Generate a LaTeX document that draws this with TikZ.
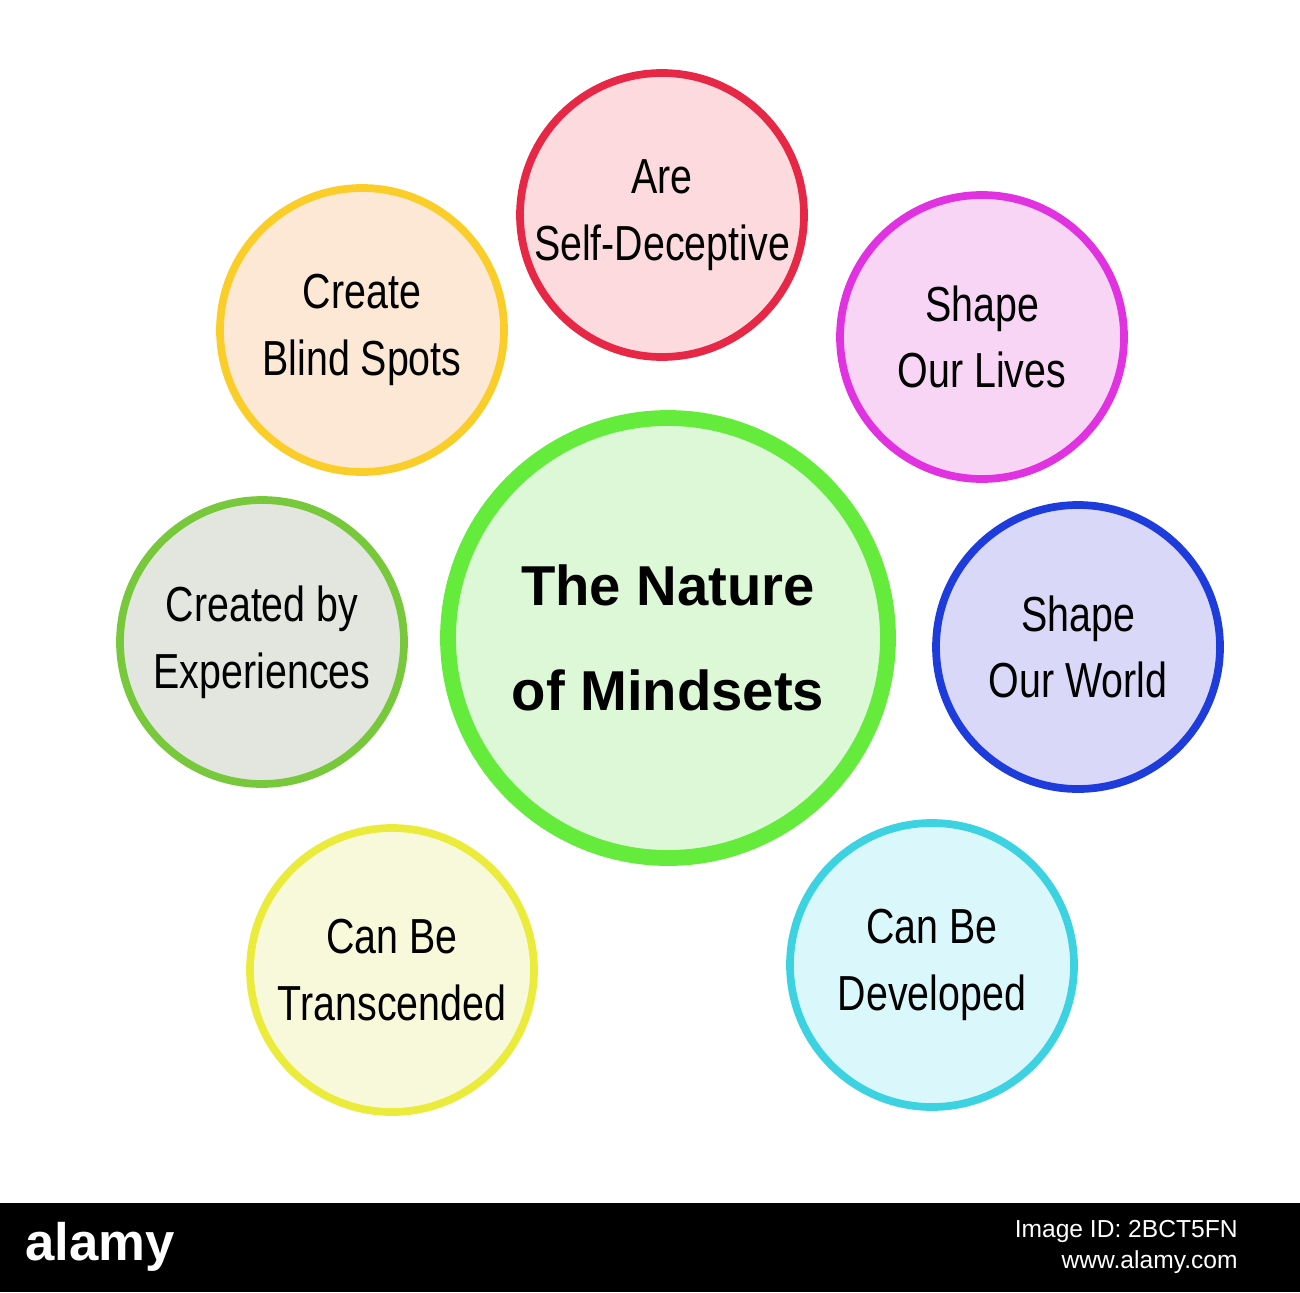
\documentclass[tikz,border=0pt]{standalone}
\usepackage{fontspec}
\setmainfont{Liberation Sans}
\newfontfamily\narrowfont[FakeStretch=0.8]{Liberation Sans}
\tikzset{
  idea/.style={circle,draw=#1,line width=2.2pt,minimum size=2.84cm,inner sep=0pt,
    align=center,font=\narrowfont\fontsize{14}{19}\selectfont},
  hub/.style={circle,draw=cHub,fill=fHub,line width=4.5pt,minimum size=4.4cm,
    inner sep=0pt,align=center,font=\bfseries\fontsize{16}{30}\selectfont}
}
\definecolor{cHub}{RGB}{100,235,60}\definecolor{fHub}{RGB}{220,248,214}
\definecolor{cRed}{RGB}{230,40,70}\definecolor{fRed}{RGB}{252,218,222}
\definecolor{cOra}{RGB}{250,205,40}\definecolor{fOra}{RGB}{253,232,214}
\definecolor{cMag}{RGB}{225,50,225}\definecolor{fMag}{RGB}{248,212,245}
\definecolor{cGrn}{RGB}{120,200,60}\definecolor{fGrn}{RGB}{226,230,222}
\definecolor{cBlu}{RGB}{30,60,220}\definecolor{fBlu}{RGB}{218,216,248}
\definecolor{cYel}{RGB}{235,235,60}\definecolor{fYel}{RGB}{248,248,218}
\definecolor{cCya}{RGB}{60,210,225}\definecolor{fCya}{RGB}{218,248,252}
\begin{document}
\begin{tikzpicture}
\useasboundingbox (0,0) rectangle (13,12.92);
% bottom bar
\fill[black] (0,0) rectangle (13,0.89);
\node[white,font=\bfseries\fontsize{15}{15}\selectfont] (brand) at (1.0,0.45) {alamy};
\node[white,font=\fontsize{7}{9}\selectfont,align=right,anchor=east] (imgid) at (12.5,0.45) {Image ID: 2BCT5FN\\www.alamy.com};

\node[hub] (mind) at (6.68,6.54) {The Nature\\of Mindsets};

\node[idea=cRed,fill=fRed] (deceive) at (6.62,10.77) {Are\\Self-Deceptive};
\node[idea=cOra,fill=fOra] (blind) at (3.62,9.62) {Create\\Blind Spots};
\node[idea=cMag,fill=fMag] (lives) at (9.82,9.55) {Shape\\Our Lives};
\node[idea=cGrn,fill=fGrn] (exper) at (2.62,6.50) {Created by\\Experiences};
\node[idea=cBlu,fill=fBlu] (world) at (10.78,6.45) {Shape\\Our World};
\node[idea=cYel,fill=fYel] (trans) at (3.92,3.22) {Can Be\\Transcended};
\node[idea=cCya,fill=fCya] (devel) at (9.32,3.27) {Can Be\\Developed};
\end{tikzpicture}
\end{document}
